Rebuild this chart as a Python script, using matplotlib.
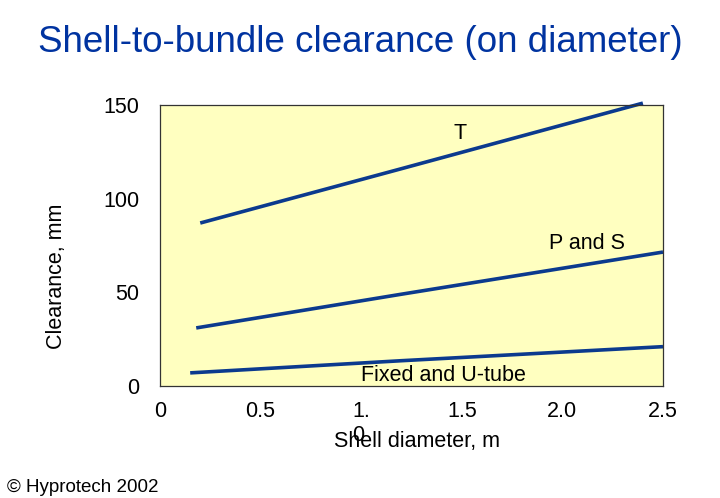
import matplotlib
matplotlib.use("Agg")
import matplotlib.pyplot as plt

plt.rcParams["font.family"] = ["Liberation Sans", "DejaVu Sans"]

# Curves (shell diameter in m, clearance in mm)
t_diam = [0.20, 1.20, 2.40]
t_clear = [87, 116, 151]

ps_diam = [0.18, 1.20, 2.50]
ps_clear = [31, 49, 71.5]

fixed_diam = [0.15, 1.20, 2.50]
fixed_clear = [7, 13.5, 21]

x_ticks = [0, 0.5, 1.0, 1.5, 2.0, 2.5]
x_tick_labels = ["0", "0.5", "1.\n0", "1.5", "2.0", "2.5"]
y_ticks = [0, 50, 100, 150]

LINE_COLOR = "#0b3a8e"
TITLE_COLOR = "#0033a0"

fig = plt.figure(figsize=(7.2, 4.98), dpi=100)
ax = fig.add_axes([160 / 720, 112 / 498, 503 / 720, 281 / 498])
ax.set_facecolor("#ffffc0")

for xs, ys in [(t_diam, t_clear), (ps_diam, ps_clear), (fixed_diam, fixed_clear)]:
    ax.plot(xs, ys, color=LINE_COLOR, lw=2.6, solid_capstyle="butt", clip_on=False)

ax.text(1.49, 135, "T", fontsize=15.5, ha="center", va="center")
ax.text(2.12, 76, "P and S", fontsize=15.5, ha="center", va="center")
ax.text(1.41, 5.5, "Fixed and U-tube", fontsize=15.5, ha="center", va="center")

ax.set_xlim(0, 2.5)
ax.set_ylim(0, 150)
ax.set_xticks(x_ticks)
ax.set_xticklabels(x_tick_labels, multialignment="left")
ax.set_yticks(y_ticks)
ax.tick_params(axis="both", length=0, labelsize=15.5)
ax.tick_params(axis="x", pad=11)
ax.tick_params(axis="y", pad=15)
for spine in ax.spines.values():
    spine.set_linewidth(0.9)
    spine.set_edgecolor("#333333")

ax.set_xlabel("Shell diameter, m", fontsize=15.5, va="center")
ax.xaxis.set_label_coords(0.511, -0.199)
ax.set_ylabel("Clearance, mm", fontsize=15.5, va="center")
ax.yaxis.set_label_coords(-0.205, 0.391)

fig.text(0.5, 1 - 42 / 498, "Shell-to-bundle clearance (on diameter)",
         fontsize=26.5, color=TITLE_COLOR, ha="center", va="center")
fig.text(7 / 720, 1 - 487 / 498, "\u00a9 Hyprotech 2002", fontsize=13.5,
         ha="left", va="center")

fig.savefig("out.png", dpi=100)
